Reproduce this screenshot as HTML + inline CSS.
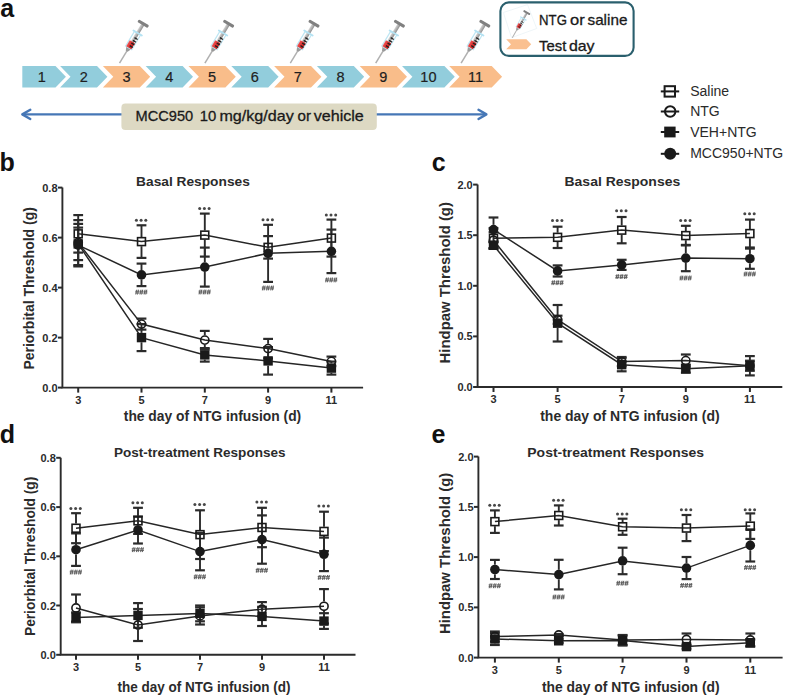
<!DOCTYPE html>
<html><head><meta charset="utf-8"><title>Figure</title>
<style>
html,body{margin:0;padding:0;background:#fff;}
body{width:785px;height:697px;overflow:hidden;}
svg{display:block;font-family:"Liberation Sans", sans-serif;}
</style></head>
<body>
<svg width="785" height="697" viewBox="0 0 785 697">
<rect width="785" height="697" fill="#fff"/>
<polygon points="22.3,66.0 55.5,66.0 65.9,76.8 55.5,87.6 22.3,87.6" fill="#92CDDC"/>
<text x="41.8" y="82.3" font-size="14.5" text-anchor="middle" fill="#1e1e1e" stroke="#1e1e1e" stroke-width="0.2">1</text>
<polygon points="60.1,66.0 97.0,66.0 107.4,76.8 97.0,87.6 60.1,87.6 70.5,76.8" fill="#92CDDC"/>
<text x="83.8" y="82.3" font-size="14.5" text-anchor="middle" fill="#1e1e1e" stroke="#1e1e1e" stroke-width="0.2">2</text>
<polygon points="102.9,66.0 139.8,66.0 150.2,76.8 139.8,87.6 102.9,87.6 113.3,76.8" fill="#F9BD8A"/>
<text x="126.6" y="82.3" font-size="14.5" text-anchor="middle" fill="#1e1e1e" stroke="#1e1e1e" stroke-width="0.2">3</text>
<polygon points="145.7,66.0 182.6,66.0 193.0,76.8 182.6,87.6 145.7,87.6 156.1,76.8" fill="#92CDDC"/>
<text x="169.3" y="82.3" font-size="14.5" text-anchor="middle" fill="#1e1e1e" stroke="#1e1e1e" stroke-width="0.2">4</text>
<polygon points="188.5,66.0 225.4,66.0 235.8,76.8 225.4,87.6 188.5,87.6 198.9,76.8" fill="#F9BD8A"/>
<text x="212.1" y="82.3" font-size="14.5" text-anchor="middle" fill="#1e1e1e" stroke="#1e1e1e" stroke-width="0.2">5</text>
<polygon points="231.3,66.0 268.2,66.0 278.6,76.8 268.2,87.6 231.3,87.6 241.7,76.8" fill="#92CDDC"/>
<text x="254.9" y="82.3" font-size="14.5" text-anchor="middle" fill="#1e1e1e" stroke="#1e1e1e" stroke-width="0.2">6</text>
<polygon points="274.1,66.0 311.0,66.0 321.4,76.8 311.0,87.6 274.1,87.6 284.5,76.8" fill="#F9BD8A"/>
<text x="297.8" y="82.3" font-size="14.5" text-anchor="middle" fill="#1e1e1e" stroke="#1e1e1e" stroke-width="0.2">7</text>
<polygon points="316.9,66.0 353.8,66.0 364.2,76.8 353.8,87.6 316.9,87.6 327.3,76.8" fill="#92CDDC"/>
<text x="340.5" y="82.3" font-size="14.5" text-anchor="middle" fill="#1e1e1e" stroke="#1e1e1e" stroke-width="0.2">8</text>
<polygon points="359.7,66.0 396.6,66.0 407.0,76.8 396.6,87.6 359.7,87.6 370.1,76.8" fill="#F9BD8A"/>
<text x="383.3" y="82.3" font-size="14.5" text-anchor="middle" fill="#1e1e1e" stroke="#1e1e1e" stroke-width="0.2">9</text>
<polygon points="402.0,66.0 444.4,66.0 454.8,76.8 444.4,87.6 402.0,87.6 412.4,76.8" fill="#92CDDC"/>
<text x="428.4" y="82.3" font-size="14.5" text-anchor="middle" fill="#1e1e1e" stroke="#1e1e1e" stroke-width="0.2">10</text>
<polygon points="449.2,66.0 491.7,66.0 502.1,76.8 491.7,87.6 449.2,87.6 459.6,76.8" fill="#F9BD8A"/>
<text x="475.6" y="82.3" font-size="14.5" text-anchor="middle" fill="#1e1e1e" stroke="#1e1e1e" stroke-width="0.2">11</text>
<defs>
<linearGradient id="gRod" x1="0" x2="1" y1="0" y2="0"><stop offset="0" stop-color="#d6d6d6"/><stop offset="0.5" stop-color="#b2b2b2"/><stop offset="1" stop-color="#8e8e8e"/></linearGradient>
<linearGradient id="gRed" x1="0" x2="1" y1="0" y2="0"><stop offset="0" stop-color="#f05050"/><stop offset="1" stop-color="#c01818"/></linearGradient>
<g id="syr">
<line x1="0" y1="0" x2="0" y2="-14.5" stroke="#b0b0b0" stroke-width="1.5"/>
<polygon points="-1.1,-14 1.1,-14 2.8,-18 -2.8,-18" fill="#9a9a9a"/>
<rect x="-3.6" y="-35" width="7.2" height="17.2" fill="#ffffff" stroke="#bfe6f3" stroke-width="1.2"/>
<rect x="-1.7" y="-46" width="3.4" height="24" fill="url(#gRod)"/>
<rect x="-3.0" y="-25" width="6.0" height="7" fill="url(#gRed)"/>
<g stroke="#202020" stroke-width="1.3">
<line x1="-0.3" y1="-20.3" x2="3.3" y2="-20.3"/>
<line x1="-0.3" y1="-23.4" x2="3.3" y2="-23.4"/>
<line x1="-0.3" y1="-26.5" x2="3.3" y2="-26.5"/>
<line x1="-0.3" y1="-29.6" x2="3.3" y2="-29.6"/>
</g>
<rect x="-5.8" y="-36.2" width="11.6" height="1.9" rx="0.9" fill="#b4e2f2"/>
<rect x="-6" y="-47.6" width="12" height="3.1" rx="1.2" fill="#808080"/>
</g>
</defs>
<use href="#syr" transform="translate(119.5,63.2) rotate(31)"/>
<use href="#syr" transform="translate(204.9,63.2) rotate(31)"/>
<use href="#syr" transform="translate(290.3,63.2) rotate(31)"/>
<use href="#syr" transform="translate(375.7,63.2) rotate(31)"/>
<use href="#syr" transform="translate(461.1,63.2) rotate(31)"/>
<rect x="500.4" y="2.4" width="133.2" height="53.5" rx="8.5" ry="8.5" fill="#fff" stroke="#2a5f6d" stroke-width="2.1"/>
<polygon points="503.4,12.5 527.5,4.6 536.7,28.5 511.5,37.7" fill="none" stroke="#ecf4f7" stroke-width="0.9"/>
<use href="#syr" transform="translate(512.3,37.7) rotate(30) scale(0.63)"/>
<polygon points="506.2,39.3 526.4,39.3 531.2,44.3 526.4,49.3 506.2,49.3 511,44.3" fill="#FAC090"/>
<text x="539.1" y="24.9" font-size="14.6" fill="#1a1a1a" stroke="#1a1a1a" stroke-width="0.3" textLength="27.8" lengthAdjust="spacingAndGlyphs">NTG</text>
<text x="570.0" y="24.9" font-size="14.6" fill="#1a1a1a" stroke="#1a1a1a" stroke-width="0.3" textLength="14.7" lengthAdjust="spacingAndGlyphs">or</text>
<text x="587.5" y="24.9" font-size="14.6" fill="#1a1a1a" stroke="#1a1a1a" stroke-width="0.3" textLength="39.9" lengthAdjust="spacingAndGlyphs">saline</text>
<text x="539.1" y="50.7" font-size="14.6" fill="#1a1a1a" stroke="#1a1a1a" stroke-width="0.3" textLength="27.2" lengthAdjust="spacingAndGlyphs">Test</text>
<text x="568.9" y="50.7" font-size="14.6" fill="#1a1a1a" stroke="#1a1a1a" stroke-width="0.3" textLength="25.7" lengthAdjust="spacingAndGlyphs">day</text>
<line x1="22.5" y1="114.4" x2="485.5" y2="114.4" stroke="#4677b6" stroke-width="2.4"/>
<polyline points="30.3,109.8 22.3,114.4 30.3,119.0" fill="none" stroke="#4677b6" stroke-width="2.4" stroke-linecap="round" stroke-linejoin="round"/>
<polyline points="478.5,109.8 486.4,114.4 478.5,119.0" fill="none" stroke="#4677b6" stroke-width="2.4" stroke-linecap="round" stroke-linejoin="round"/>
<rect x="121.4" y="103.6" width="255.4" height="26.4" rx="4" ry="4" fill="#DDD9C3"/>
<text x="135.6" y="120.7" font-size="14.6" fill="#1a1a1a" stroke="#1a1a1a" stroke-width="0.3" textLength="57.6" lengthAdjust="spacingAndGlyphs">MCC950</text>
<text x="199.8" y="120.7" font-size="14.6" fill="#1a1a1a" stroke="#1a1a1a" stroke-width="0.3" textLength="16.5" lengthAdjust="spacingAndGlyphs">10</text>
<text x="219.4" y="120.7" font-size="14.6" fill="#1a1a1a" stroke="#1a1a1a" stroke-width="0.3" textLength="74.3" lengthAdjust="spacingAndGlyphs">mg/kg/day</text>
<text x="297.6" y="120.7" font-size="14.6" fill="#1a1a1a" stroke="#1a1a1a" stroke-width="0.3" textLength="13.5" lengthAdjust="spacingAndGlyphs">or</text>
<text x="313.7" y="120.7" font-size="14.6" fill="#1a1a1a" stroke="#1a1a1a" stroke-width="0.3" textLength="50.1" lengthAdjust="spacingAndGlyphs">vehicle</text>
<text x="0.3" y="17" font-size="25" font-weight="bold" fill="#111">a</text>
<line x1="660.8" y1="91.4" x2="679.2" y2="91.4" stroke="#1a1a1a" stroke-width="2"/>
<rect x="664.60" y="86.20" width="10.40" height="10.40" fill="#fff" stroke="#1a1a1a" stroke-width="2"/>
<line x1="664" y1="91.4" x2="676" y2="91.4" stroke="#1a1a1a" stroke-width="2"/>
<text x="690.2" y="96.1" font-size="14" fill="#2a2a2a">Saline</text>
<line x1="660.8" y1="111.5" x2="679.2" y2="111.5" stroke="#1a1a1a" stroke-width="2"/>
<circle cx="670.20" cy="111.50" r="5.20" fill="#fff" stroke="#1a1a1a" stroke-width="2"/>
<line x1="664" y1="111.5" x2="676" y2="111.5" stroke="#1a1a1a" stroke-width="2"/>
<text x="690.2" y="116.1" font-size="14" fill="#2a2a2a">NTG</text>
<line x1="660.8" y1="132.0" x2="679.2" y2="132.0" stroke="#1a1a1a" stroke-width="2"/>
<rect x="664.2" y="126.6" width="11.4" height="10.8" fill="#1a1a1a"/>
<text x="690.2" y="136.6" font-size="14" fill="#2a2a2a">VEH+NTG</text>
<line x1="660.8" y1="153.8" x2="679.2" y2="153.8" stroke="#1a1a1a" stroke-width="2"/>
<circle cx="670.2" cy="153.8" r="6" fill="#1a1a1a"/>
<text x="690.2" y="158.1" font-size="14" fill="#2a2a2a">MCC950+NTG</text>
<path d="M62.4,187.6 V387.6 H363.1" fill="none" stroke="#2b2b2b" stroke-width="1.9"/>
<line x1="57.9" y1="387.6" x2="62.4" y2="387.6" stroke="#2b2b2b" stroke-width="2"/>
<text x="57.5" y="391.6" font-size="11" font-weight="bold" text-anchor="end" fill="#2b2b2b">0.0</text>
<line x1="57.9" y1="337.6" x2="62.4" y2="337.6" stroke="#2b2b2b" stroke-width="2"/>
<text x="57.5" y="341.6" font-size="11" font-weight="bold" text-anchor="end" fill="#2b2b2b">0.2</text>
<line x1="57.9" y1="287.6" x2="62.4" y2="287.6" stroke="#2b2b2b" stroke-width="2"/>
<text x="57.5" y="291.6" font-size="11" font-weight="bold" text-anchor="end" fill="#2b2b2b">0.4</text>
<line x1="57.9" y1="237.6" x2="62.4" y2="237.6" stroke="#2b2b2b" stroke-width="2"/>
<text x="57.5" y="241.6" font-size="11" font-weight="bold" text-anchor="end" fill="#2b2b2b">0.6</text>
<line x1="57.9" y1="187.6" x2="62.4" y2="187.6" stroke="#2b2b2b" stroke-width="2"/>
<text x="57.5" y="191.6" font-size="11" font-weight="bold" text-anchor="end" fill="#2b2b2b">0.8</text>
<line x1="78.2" y1="387.6" x2="78.2" y2="392.6" stroke="#2b2b2b" stroke-width="2"/>
<text x="78.2" y="403.7" font-size="11" font-weight="bold" text-anchor="middle" fill="#2b2b2b">3</text>
<line x1="141.5" y1="387.6" x2="141.5" y2="392.6" stroke="#2b2b2b" stroke-width="2"/>
<text x="141.5" y="403.7" font-size="11" font-weight="bold" text-anchor="middle" fill="#2b2b2b">5</text>
<line x1="204.8" y1="387.6" x2="204.8" y2="392.6" stroke="#2b2b2b" stroke-width="2"/>
<text x="204.8" y="403.7" font-size="11" font-weight="bold" text-anchor="middle" fill="#2b2b2b">7</text>
<line x1="268.1" y1="387.6" x2="268.1" y2="392.6" stroke="#2b2b2b" stroke-width="2"/>
<text x="268.1" y="403.7" font-size="11" font-weight="bold" text-anchor="middle" fill="#2b2b2b">9</text>
<line x1="331.4" y1="387.6" x2="331.4" y2="392.6" stroke="#2b2b2b" stroke-width="2"/>
<text x="331.4" y="403.7" font-size="11" font-weight="bold" text-anchor="middle" fill="#2b2b2b">11</text>
<text x="136.1" y="186.0" font-size="13.6" font-weight="bold" fill="#2b2b2b" textLength="113.7" lengthAdjust="spacingAndGlyphs">Basal Responses</text>
<text x="123.8" y="420.8" font-size="14" font-weight="bold" fill="#2b2b2b" textLength="177.4" lengthAdjust="spacingAndGlyphs">the day of NTG infusion (d)</text>
<text transform="translate(34.4,369.6) rotate(-90)" x="0" y="0" font-size="14" font-weight="bold" fill="#2b2b2b" textLength="162.5" lengthAdjust="spacingAndGlyphs">Periorbital Threshold (g)</text>
<text x="-0.5" y="171.0" font-size="25" font-weight="bold" fill="#111">b</text>
<line x1="78.2" y1="227.6" x2="78.2" y2="239.2" stroke="#2b2b2b" stroke-width="1.9"/>
<line x1="78.2" y1="248.6" x2="78.2" y2="260.1" stroke="#2b2b2b" stroke-width="1.9"/>
<line x1="73.3" y1="227.6" x2="83.1" y2="227.6" stroke="#2b2b2b" stroke-width="2.2"/>
<line x1="73.3" y1="260.1" x2="83.1" y2="260.1" stroke="#2b2b2b" stroke-width="2.2"/>
<line x1="141.5" y1="324.1" x2="141.5" y2="332.9" stroke="#2b2b2b" stroke-width="1.9"/>
<line x1="141.5" y1="342.3" x2="141.5" y2="351.1" stroke="#2b2b2b" stroke-width="1.9"/>
<line x1="136.6" y1="324.1" x2="146.4" y2="324.1" stroke="#2b2b2b" stroke-width="2.2"/>
<line x1="136.6" y1="351.1" x2="146.4" y2="351.1" stroke="#2b2b2b" stroke-width="2.2"/>
<line x1="204.8" y1="348.1" x2="204.8" y2="350.2" stroke="#2b2b2b" stroke-width="1.9"/>
<line x1="204.8" y1="359.6" x2="204.8" y2="361.6" stroke="#2b2b2b" stroke-width="1.9"/>
<line x1="199.9" y1="348.1" x2="209.7" y2="348.1" stroke="#2b2b2b" stroke-width="2.2"/>
<line x1="199.9" y1="361.6" x2="209.7" y2="361.6" stroke="#2b2b2b" stroke-width="2.2"/>
<line x1="268.1" y1="347.1" x2="268.1" y2="356.2" stroke="#2b2b2b" stroke-width="1.9"/>
<line x1="268.1" y1="365.6" x2="268.1" y2="374.6" stroke="#2b2b2b" stroke-width="1.9"/>
<line x1="263.2" y1="347.1" x2="273.0" y2="347.1" stroke="#2b2b2b" stroke-width="2.2"/>
<line x1="263.2" y1="374.6" x2="273.0" y2="374.6" stroke="#2b2b2b" stroke-width="2.2"/>
<line x1="331.4" y1="361.6" x2="331.4" y2="363.4" stroke="#2b2b2b" stroke-width="1.9"/>
<line x1="331.4" y1="372.8" x2="331.4" y2="374.6" stroke="#2b2b2b" stroke-width="1.9"/>
<line x1="326.5" y1="361.6" x2="336.3" y2="361.6" stroke="#2b2b2b" stroke-width="2.2"/>
<line x1="326.5" y1="374.6" x2="336.3" y2="374.6" stroke="#2b2b2b" stroke-width="2.2"/>
<line x1="78.2" y1="220.1" x2="78.2" y2="237.8" stroke="#2b2b2b" stroke-width="1.9"/>
<line x1="78.2" y1="247.4" x2="78.2" y2="265.1" stroke="#2b2b2b" stroke-width="1.9"/>
<line x1="73.3" y1="220.1" x2="83.1" y2="220.1" stroke="#2b2b2b" stroke-width="2.2"/>
<line x1="73.3" y1="265.1" x2="83.1" y2="265.1" stroke="#2b2b2b" stroke-width="2.2"/>
<line x1="141.5" y1="318.6" x2="141.5" y2="319.3" stroke="#2b2b2b" stroke-width="1.9"/>
<line x1="141.5" y1="328.9" x2="141.5" y2="329.6" stroke="#2b2b2b" stroke-width="1.9"/>
<line x1="136.6" y1="318.6" x2="146.4" y2="318.6" stroke="#2b2b2b" stroke-width="2.2"/>
<line x1="136.6" y1="329.6" x2="146.4" y2="329.6" stroke="#2b2b2b" stroke-width="2.2"/>
<line x1="204.8" y1="330.9" x2="204.8" y2="335.3" stroke="#2b2b2b" stroke-width="1.9"/>
<line x1="204.8" y1="344.9" x2="204.8" y2="349.4" stroke="#2b2b2b" stroke-width="1.9"/>
<line x1="199.9" y1="330.9" x2="209.7" y2="330.9" stroke="#2b2b2b" stroke-width="2.2"/>
<line x1="199.9" y1="349.4" x2="209.7" y2="349.4" stroke="#2b2b2b" stroke-width="2.2"/>
<line x1="268.1" y1="338.9" x2="268.1" y2="343.8" stroke="#2b2b2b" stroke-width="1.9"/>
<line x1="268.1" y1="353.4" x2="268.1" y2="358.4" stroke="#2b2b2b" stroke-width="1.9"/>
<line x1="263.2" y1="338.9" x2="273.0" y2="338.9" stroke="#2b2b2b" stroke-width="2.2"/>
<line x1="263.2" y1="358.4" x2="273.0" y2="358.4" stroke="#2b2b2b" stroke-width="2.2"/>
<line x1="326.5" y1="356.6" x2="336.3" y2="356.6" stroke="#2b2b2b" stroke-width="2.2"/>
<line x1="326.5" y1="366.1" x2="336.3" y2="366.1" stroke="#2b2b2b" stroke-width="2.2"/>
<line x1="78.2" y1="223.9" x2="78.2" y2="240.3" stroke="#2b2b2b" stroke-width="1.9"/>
<line x1="78.2" y1="249.9" x2="78.2" y2="266.4" stroke="#2b2b2b" stroke-width="1.9"/>
<line x1="73.3" y1="223.9" x2="83.1" y2="223.9" stroke="#2b2b2b" stroke-width="2.2"/>
<line x1="73.3" y1="266.4" x2="83.1" y2="266.4" stroke="#2b2b2b" stroke-width="2.2"/>
<line x1="141.5" y1="263.6" x2="141.5" y2="270.1" stroke="#2b2b2b" stroke-width="1.9"/>
<line x1="141.5" y1="279.7" x2="141.5" y2="286.1" stroke="#2b2b2b" stroke-width="1.9"/>
<line x1="136.6" y1="263.6" x2="146.4" y2="263.6" stroke="#2b2b2b" stroke-width="2.2"/>
<line x1="136.6" y1="286.1" x2="146.4" y2="286.1" stroke="#2b2b2b" stroke-width="2.2"/>
<line x1="204.8" y1="247.6" x2="204.8" y2="262.3" stroke="#2b2b2b" stroke-width="1.9"/>
<line x1="204.8" y1="271.9" x2="204.8" y2="286.6" stroke="#2b2b2b" stroke-width="1.9"/>
<line x1="199.9" y1="247.6" x2="209.7" y2="247.6" stroke="#2b2b2b" stroke-width="2.2"/>
<line x1="199.9" y1="286.6" x2="209.7" y2="286.6" stroke="#2b2b2b" stroke-width="2.2"/>
<line x1="268.1" y1="224.8" x2="268.1" y2="248.5" stroke="#2b2b2b" stroke-width="1.9"/>
<line x1="268.1" y1="258.1" x2="268.1" y2="281.9" stroke="#2b2b2b" stroke-width="1.9"/>
<line x1="263.2" y1="224.8" x2="273.0" y2="224.8" stroke="#2b2b2b" stroke-width="2.2"/>
<line x1="263.2" y1="281.9" x2="273.0" y2="281.9" stroke="#2b2b2b" stroke-width="2.2"/>
<line x1="331.4" y1="229.6" x2="331.4" y2="246.5" stroke="#2b2b2b" stroke-width="1.9"/>
<line x1="331.4" y1="256.1" x2="331.4" y2="273.1" stroke="#2b2b2b" stroke-width="1.9"/>
<line x1="326.5" y1="229.6" x2="336.3" y2="229.6" stroke="#2b2b2b" stroke-width="2.2"/>
<line x1="326.5" y1="273.1" x2="336.3" y2="273.1" stroke="#2b2b2b" stroke-width="2.2"/>
<line x1="78.2" y1="215.1" x2="78.2" y2="229.2" stroke="#2b2b2b" stroke-width="1.9"/>
<line x1="78.2" y1="238.4" x2="78.2" y2="252.6" stroke="#2b2b2b" stroke-width="1.9"/>
<line x1="73.3" y1="215.1" x2="83.1" y2="215.1" stroke="#2b2b2b" stroke-width="2.2"/>
<line x1="73.3" y1="252.6" x2="83.1" y2="252.6" stroke="#2b2b2b" stroke-width="2.2"/>
<line x1="141.5" y1="225.3" x2="141.5" y2="237.0" stroke="#2b2b2b" stroke-width="1.9"/>
<line x1="141.5" y1="246.2" x2="141.5" y2="257.9" stroke="#2b2b2b" stroke-width="1.9"/>
<line x1="136.6" y1="225.3" x2="146.4" y2="225.3" stroke="#2b2b2b" stroke-width="2.2"/>
<line x1="136.6" y1="257.9" x2="146.4" y2="257.9" stroke="#2b2b2b" stroke-width="2.2"/>
<line x1="204.8" y1="213.6" x2="204.8" y2="230.5" stroke="#2b2b2b" stroke-width="1.9"/>
<line x1="204.8" y1="239.7" x2="204.8" y2="256.6" stroke="#2b2b2b" stroke-width="1.9"/>
<line x1="199.9" y1="213.6" x2="209.7" y2="213.6" stroke="#2b2b2b" stroke-width="2.2"/>
<line x1="199.9" y1="256.6" x2="209.7" y2="256.6" stroke="#2b2b2b" stroke-width="2.2"/>
<line x1="268.1" y1="236.1" x2="268.1" y2="242.8" stroke="#2b2b2b" stroke-width="1.9"/>
<line x1="268.1" y1="251.9" x2="268.1" y2="258.6" stroke="#2b2b2b" stroke-width="1.9"/>
<line x1="263.2" y1="236.1" x2="273.0" y2="236.1" stroke="#2b2b2b" stroke-width="2.2"/>
<line x1="263.2" y1="258.6" x2="273.0" y2="258.6" stroke="#2b2b2b" stroke-width="2.2"/>
<line x1="331.4" y1="219.6" x2="331.4" y2="233.5" stroke="#2b2b2b" stroke-width="1.9"/>
<line x1="331.4" y1="242.7" x2="331.4" y2="256.6" stroke="#2b2b2b" stroke-width="1.9"/>
<line x1="326.5" y1="219.6" x2="336.3" y2="219.6" stroke="#2b2b2b" stroke-width="2.2"/>
<line x1="326.5" y1="256.6" x2="336.3" y2="256.6" stroke="#2b2b2b" stroke-width="2.2"/>
<polyline points="78.2,243.9 141.5,337.6 204.8,354.9 268.1,360.9 331.4,368.1" fill="none" stroke="#262626" stroke-width="1.5"/>
<polyline points="78.2,242.6 141.5,324.1 204.8,340.1 268.1,348.6 331.4,361.4" fill="none" stroke="#262626" stroke-width="1.5"/>
<polyline points="78.2,245.1 141.5,274.9 204.8,267.1 268.1,253.3 331.4,251.3" fill="none" stroke="#262626" stroke-width="1.5"/>
<polyline points="78.2,233.8 141.5,241.6 204.8,235.1 268.1,247.3 331.4,238.1" fill="none" stroke="#262626" stroke-width="1.5"/>
<rect x="73.5" y="239.2" width="9.4" height="9.4" fill="#1a1a1a"/>
<rect x="136.8" y="332.9" width="9.4" height="9.4" fill="#1a1a1a"/>
<rect x="200.1" y="350.2" width="9.4" height="9.4" fill="#1a1a1a"/>
<rect x="263.4" y="356.2" width="9.4" height="9.4" fill="#1a1a1a"/>
<rect x="326.7" y="363.4" width="9.4" height="9.4" fill="#1a1a1a"/>
<circle cx="78.20" cy="242.60" r="4.1" fill="none" stroke="#1a1a1a" stroke-width="1.6"/>
<circle cx="141.50" cy="324.10" r="4.1" fill="none" stroke="#1a1a1a" stroke-width="1.6"/>
<circle cx="204.80" cy="340.10" r="4.1" fill="none" stroke="#1a1a1a" stroke-width="1.6"/>
<circle cx="268.10" cy="348.60" r="4.1" fill="none" stroke="#1a1a1a" stroke-width="1.6"/>
<circle cx="331.40" cy="361.35" r="4.1" fill="none" stroke="#1a1a1a" stroke-width="1.6"/>
<circle cx="78.2" cy="245.1" r="4.8" fill="#1a1a1a"/>
<circle cx="141.5" cy="274.9" r="4.8" fill="#1a1a1a"/>
<circle cx="204.8" cy="267.1" r="4.8" fill="#1a1a1a"/>
<circle cx="268.1" cy="253.3" r="4.8" fill="#1a1a1a"/>
<circle cx="331.4" cy="251.3" r="4.8" fill="#1a1a1a"/>
<rect x="74.25" y="229.90" width="7.9" height="7.9" fill="none" stroke="#1a1a1a" stroke-width="1.6"/>
<rect x="137.55" y="237.65" width="7.9" height="7.9" fill="none" stroke="#1a1a1a" stroke-width="1.6"/>
<rect x="200.85" y="231.15" width="7.9" height="7.9" fill="none" stroke="#1a1a1a" stroke-width="1.6"/>
<rect x="264.15" y="243.40" width="7.9" height="7.9" fill="none" stroke="#1a1a1a" stroke-width="1.6"/>
<rect x="327.45" y="234.15" width="7.9" height="7.9" fill="none" stroke="#1a1a1a" stroke-width="1.6"/>
<circle cx="136.4" cy="220.2" r="1.5" fill="#474747"/>
<circle cx="141.1" cy="220.2" r="1.5" fill="#474747"/>
<circle cx="145.8" cy="220.2" r="1.5" fill="#474747"/>
<circle cx="199.7" cy="208.5" r="1.5" fill="#474747"/>
<circle cx="204.4" cy="208.5" r="1.5" fill="#474747"/>
<circle cx="209.1" cy="208.5" r="1.5" fill="#474747"/>
<circle cx="263.0" cy="219.7" r="1.5" fill="#474747"/>
<circle cx="267.7" cy="219.7" r="1.5" fill="#474747"/>
<circle cx="272.4" cy="219.7" r="1.5" fill="#474747"/>
<circle cx="326.3" cy="215.0" r="1.5" fill="#474747"/>
<circle cx="331.0" cy="215.0" r="1.5" fill="#474747"/>
<circle cx="335.7" cy="215.0" r="1.5" fill="#474747"/>
<path d="M135.80,294.50L136.80,289.70M137.50,294.50L138.50,289.70M135.25,291.25H139.05M135.25,292.95H139.05M139.95,294.50L140.95,289.70M141.65,294.50L142.65,289.70M139.40,291.25H143.20M139.40,292.95H143.20M144.10,294.50L145.10,289.70M145.80,294.50L146.80,289.70M143.55,291.25H147.35M143.55,292.95H147.35" stroke="#606060" stroke-width="1.0" fill="none"/>
<path d="M199.10,294.40L200.10,289.60M200.80,294.40L201.80,289.60M198.55,291.15H202.35M198.55,292.85H202.35M203.25,294.40L204.25,289.60M204.95,294.40L205.95,289.60M202.70,291.15H206.50M202.70,292.85H206.50M207.40,294.40L208.40,289.60M209.10,294.40L210.10,289.60M206.85,291.15H210.65M206.85,292.85H210.65" stroke="#606060" stroke-width="1.0" fill="none"/>
<path d="M262.40,290.40L263.40,285.60M264.10,290.40L265.10,285.60M261.85,287.15H265.65M261.85,288.85H265.65M266.55,290.40L267.55,285.60M268.25,290.40L269.25,285.60M266.00,287.15H269.80M266.00,288.85H269.80M270.70,290.40L271.70,285.60M272.40,290.40L273.40,285.60M270.15,287.15H273.95M270.15,288.85H273.95" stroke="#606060" stroke-width="1.0" fill="none"/>
<path d="M325.70,282.30L326.70,277.50M327.40,282.30L328.40,277.50M325.15,279.05H328.95M325.15,280.75H328.95M329.85,282.30L330.85,277.50M331.55,282.30L332.55,277.50M329.30,279.05H333.10M329.30,280.75H333.10M334.00,282.30L335.00,277.50M335.70,282.30L336.70,277.50M333.45,279.05H337.25M333.45,280.75H337.25" stroke="#606060" stroke-width="1.0" fill="none"/>
<path d="M477.6,184.6 V387.0 H782.3" fill="none" stroke="#2b2b2b" stroke-width="1.9"/>
<line x1="473.1" y1="387.0" x2="477.6" y2="387.0" stroke="#2b2b2b" stroke-width="2"/>
<text x="472.7" y="391.0" font-size="11" font-weight="bold" text-anchor="end" fill="#2b2b2b">0.0</text>
<line x1="473.1" y1="336.4" x2="477.6" y2="336.4" stroke="#2b2b2b" stroke-width="2"/>
<text x="472.7" y="340.4" font-size="11" font-weight="bold" text-anchor="end" fill="#2b2b2b">0.5</text>
<line x1="473.1" y1="285.8" x2="477.6" y2="285.8" stroke="#2b2b2b" stroke-width="2"/>
<text x="472.7" y="289.8" font-size="11" font-weight="bold" text-anchor="end" fill="#2b2b2b">1.0</text>
<line x1="473.1" y1="235.2" x2="477.6" y2="235.2" stroke="#2b2b2b" stroke-width="2"/>
<text x="472.7" y="239.2" font-size="11" font-weight="bold" text-anchor="end" fill="#2b2b2b">1.5</text>
<line x1="473.1" y1="184.6" x2="477.6" y2="184.6" stroke="#2b2b2b" stroke-width="2"/>
<text x="472.7" y="188.6" font-size="11" font-weight="bold" text-anchor="end" fill="#2b2b2b">2.0</text>
<line x1="493.5" y1="387.0" x2="493.5" y2="392.0" stroke="#2b2b2b" stroke-width="2"/>
<text x="493.5" y="403.1" font-size="11" font-weight="bold" text-anchor="middle" fill="#2b2b2b">3</text>
<line x1="557.6" y1="387.0" x2="557.6" y2="392.0" stroke="#2b2b2b" stroke-width="2"/>
<text x="557.6" y="403.1" font-size="11" font-weight="bold" text-anchor="middle" fill="#2b2b2b">5</text>
<line x1="621.7" y1="387.0" x2="621.7" y2="392.0" stroke="#2b2b2b" stroke-width="2"/>
<text x="621.7" y="403.1" font-size="11" font-weight="bold" text-anchor="middle" fill="#2b2b2b">7</text>
<line x1="685.8" y1="387.0" x2="685.8" y2="392.0" stroke="#2b2b2b" stroke-width="2"/>
<text x="685.8" y="403.1" font-size="11" font-weight="bold" text-anchor="middle" fill="#2b2b2b">9</text>
<line x1="749.9" y1="387.0" x2="749.9" y2="392.0" stroke="#2b2b2b" stroke-width="2"/>
<text x="749.9" y="403.1" font-size="11" font-weight="bold" text-anchor="middle" fill="#2b2b2b">11</text>
<text x="564.5" y="186.4" font-size="13.6" font-weight="bold" fill="#2b2b2b" textLength="115.7" lengthAdjust="spacingAndGlyphs">Basal Responses</text>
<text x="540.2" y="420.8" font-size="14" font-weight="bold" fill="#2b2b2b" textLength="179.4" lengthAdjust="spacingAndGlyphs">the day of NTG infusion (d)</text>
<text transform="translate(449.5,363.4) rotate(-90)" x="0" y="0" font-size="14" font-weight="bold" fill="#2b2b2b" textLength="161.3" lengthAdjust="spacingAndGlyphs">Hindpaw Threshold (g)</text>
<text x="431.7" y="171.1" font-size="25" font-weight="bold" fill="#111">c</text>
<line x1="488.6" y1="242.3" x2="498.4" y2="242.3" stroke="#2b2b2b" stroke-width="2.2"/>
<line x1="488.6" y1="248.4" x2="498.4" y2="248.4" stroke="#2b2b2b" stroke-width="2.2"/>
<line x1="557.6" y1="305.0" x2="557.6" y2="318.5" stroke="#2b2b2b" stroke-width="1.9"/>
<line x1="557.6" y1="327.9" x2="557.6" y2="341.5" stroke="#2b2b2b" stroke-width="1.9"/>
<line x1="552.7" y1="305.0" x2="562.5" y2="305.0" stroke="#2b2b2b" stroke-width="2.2"/>
<line x1="552.7" y1="341.5" x2="562.5" y2="341.5" stroke="#2b2b2b" stroke-width="2.2"/>
<line x1="621.7" y1="358.2" x2="621.7" y2="360.0" stroke="#2b2b2b" stroke-width="1.9"/>
<line x1="621.7" y1="369.4" x2="621.7" y2="371.3" stroke="#2b2b2b" stroke-width="1.9"/>
<line x1="616.8" y1="358.2" x2="626.6" y2="358.2" stroke="#2b2b2b" stroke-width="2.2"/>
<line x1="616.8" y1="371.3" x2="626.6" y2="371.3" stroke="#2b2b2b" stroke-width="2.2"/>
<line x1="680.9" y1="364.6" x2="690.7" y2="364.6" stroke="#2b2b2b" stroke-width="2.2"/>
<line x1="680.9" y1="372.7" x2="690.7" y2="372.7" stroke="#2b2b2b" stroke-width="2.2"/>
<line x1="745.0" y1="360.7" x2="754.8" y2="360.7" stroke="#2b2b2b" stroke-width="2.2"/>
<line x1="745.0" y1="370.8" x2="754.8" y2="370.8" stroke="#2b2b2b" stroke-width="2.2"/>
<line x1="493.5" y1="232.2" x2="493.5" y2="235.5" stroke="#2b2b2b" stroke-width="1.9"/>
<line x1="493.5" y1="245.1" x2="493.5" y2="248.4" stroke="#2b2b2b" stroke-width="1.9"/>
<line x1="488.6" y1="232.2" x2="498.4" y2="232.2" stroke="#2b2b2b" stroke-width="2.2"/>
<line x1="488.6" y1="248.4" x2="498.4" y2="248.4" stroke="#2b2b2b" stroke-width="2.2"/>
<line x1="552.7" y1="315.7" x2="562.5" y2="315.7" stroke="#2b2b2b" stroke-width="2.2"/>
<line x1="552.7" y1="323.8" x2="562.5" y2="323.8" stroke="#2b2b2b" stroke-width="2.2"/>
<line x1="616.8" y1="357.0" x2="626.6" y2="357.0" stroke="#2b2b2b" stroke-width="2.2"/>
<line x1="616.8" y1="366.2" x2="626.6" y2="366.2" stroke="#2b2b2b" stroke-width="2.2"/>
<line x1="685.8" y1="354.5" x2="685.8" y2="355.8" stroke="#2b2b2b" stroke-width="1.9"/>
<line x1="685.8" y1="365.4" x2="685.8" y2="366.7" stroke="#2b2b2b" stroke-width="1.9"/>
<line x1="680.9" y1="354.5" x2="690.7" y2="354.5" stroke="#2b2b2b" stroke-width="2.2"/>
<line x1="680.9" y1="366.7" x2="690.7" y2="366.7" stroke="#2b2b2b" stroke-width="2.2"/>
<line x1="749.9" y1="356.1" x2="749.9" y2="360.9" stroke="#2b2b2b" stroke-width="1.9"/>
<line x1="749.9" y1="370.5" x2="749.9" y2="375.4" stroke="#2b2b2b" stroke-width="1.9"/>
<line x1="745.0" y1="356.1" x2="754.8" y2="356.1" stroke="#2b2b2b" stroke-width="2.2"/>
<line x1="745.0" y1="375.4" x2="754.8" y2="375.4" stroke="#2b2b2b" stroke-width="2.2"/>
<line x1="493.5" y1="217.5" x2="493.5" y2="224.8" stroke="#2b2b2b" stroke-width="1.9"/>
<line x1="493.5" y1="234.4" x2="493.5" y2="241.8" stroke="#2b2b2b" stroke-width="1.9"/>
<line x1="488.6" y1="217.5" x2="498.4" y2="217.5" stroke="#2b2b2b" stroke-width="2.2"/>
<line x1="488.6" y1="241.8" x2="498.4" y2="241.8" stroke="#2b2b2b" stroke-width="2.2"/>
<line x1="557.6" y1="265.4" x2="557.6" y2="266.1" stroke="#2b2b2b" stroke-width="1.9"/>
<line x1="557.6" y1="275.7" x2="557.6" y2="276.5" stroke="#2b2b2b" stroke-width="1.9"/>
<line x1="552.7" y1="265.4" x2="562.5" y2="265.4" stroke="#2b2b2b" stroke-width="2.2"/>
<line x1="552.7" y1="276.5" x2="562.5" y2="276.5" stroke="#2b2b2b" stroke-width="2.2"/>
<line x1="616.8" y1="259.8" x2="626.6" y2="259.8" stroke="#2b2b2b" stroke-width="2.2"/>
<line x1="616.8" y1="269.9" x2="626.6" y2="269.9" stroke="#2b2b2b" stroke-width="2.2"/>
<line x1="685.8" y1="244.9" x2="685.8" y2="253.3" stroke="#2b2b2b" stroke-width="1.9"/>
<line x1="685.8" y1="262.9" x2="685.8" y2="271.2" stroke="#2b2b2b" stroke-width="1.9"/>
<line x1="680.9" y1="244.9" x2="690.7" y2="244.9" stroke="#2b2b2b" stroke-width="2.2"/>
<line x1="680.9" y1="271.2" x2="690.7" y2="271.2" stroke="#2b2b2b" stroke-width="2.2"/>
<line x1="749.9" y1="248.6" x2="749.9" y2="253.9" stroke="#2b2b2b" stroke-width="1.9"/>
<line x1="749.9" y1="263.5" x2="749.9" y2="268.8" stroke="#2b2b2b" stroke-width="1.9"/>
<line x1="745.0" y1="248.6" x2="754.8" y2="248.6" stroke="#2b2b2b" stroke-width="2.2"/>
<line x1="745.0" y1="268.8" x2="754.8" y2="268.8" stroke="#2b2b2b" stroke-width="2.2"/>
<line x1="493.5" y1="228.1" x2="493.5" y2="233.6" stroke="#2b2b2b" stroke-width="1.9"/>
<line x1="493.5" y1="242.8" x2="493.5" y2="248.4" stroke="#2b2b2b" stroke-width="1.9"/>
<line x1="488.6" y1="228.1" x2="498.4" y2="228.1" stroke="#2b2b2b" stroke-width="2.2"/>
<line x1="488.6" y1="248.4" x2="498.4" y2="248.4" stroke="#2b2b2b" stroke-width="2.2"/>
<line x1="557.6" y1="226.7" x2="557.6" y2="232.7" stroke="#2b2b2b" stroke-width="1.9"/>
<line x1="557.6" y1="241.9" x2="557.6" y2="248.0" stroke="#2b2b2b" stroke-width="1.9"/>
<line x1="552.7" y1="226.7" x2="562.5" y2="226.7" stroke="#2b2b2b" stroke-width="2.2"/>
<line x1="552.7" y1="248.0" x2="562.5" y2="248.0" stroke="#2b2b2b" stroke-width="2.2"/>
<line x1="621.7" y1="217.0" x2="621.7" y2="225.5" stroke="#2b2b2b" stroke-width="1.9"/>
<line x1="621.7" y1="234.7" x2="621.7" y2="243.3" stroke="#2b2b2b" stroke-width="1.9"/>
<line x1="616.8" y1="217.0" x2="626.6" y2="217.0" stroke="#2b2b2b" stroke-width="2.2"/>
<line x1="616.8" y1="243.3" x2="626.6" y2="243.3" stroke="#2b2b2b" stroke-width="2.2"/>
<line x1="685.8" y1="225.8" x2="685.8" y2="231.0" stroke="#2b2b2b" stroke-width="1.9"/>
<line x1="685.8" y1="240.2" x2="685.8" y2="245.4" stroke="#2b2b2b" stroke-width="1.9"/>
<line x1="680.9" y1="225.8" x2="690.7" y2="225.8" stroke="#2b2b2b" stroke-width="2.2"/>
<line x1="680.9" y1="245.4" x2="690.7" y2="245.4" stroke="#2b2b2b" stroke-width="2.2"/>
<line x1="749.9" y1="219.6" x2="749.9" y2="229.0" stroke="#2b2b2b" stroke-width="1.9"/>
<line x1="749.9" y1="238.2" x2="749.9" y2="247.5" stroke="#2b2b2b" stroke-width="1.9"/>
<line x1="745.0" y1="219.6" x2="754.8" y2="219.6" stroke="#2b2b2b" stroke-width="2.2"/>
<line x1="745.0" y1="247.5" x2="754.8" y2="247.5" stroke="#2b2b2b" stroke-width="2.2"/>
<polyline points="493.5,245.3 557.6,323.2 621.7,364.7 685.8,368.7 749.9,365.7" fill="none" stroke="#262626" stroke-width="1.5"/>
<polyline points="493.5,240.3 557.6,319.7 621.7,361.6 685.8,360.6 749.9,365.7" fill="none" stroke="#262626" stroke-width="1.5"/>
<polyline points="493.5,229.6 557.6,270.9 621.7,264.9 685.8,258.1 749.9,258.7" fill="none" stroke="#262626" stroke-width="1.5"/>
<polyline points="493.5,238.2 557.6,237.3 621.7,230.1 685.8,235.6 749.9,233.6" fill="none" stroke="#262626" stroke-width="1.5"/>
<rect x="488.8" y="240.6" width="9.4" height="9.4" fill="#1a1a1a"/>
<rect x="552.9" y="318.5" width="9.4" height="9.4" fill="#1a1a1a"/>
<rect x="617.0" y="360.0" width="9.4" height="9.4" fill="#1a1a1a"/>
<rect x="681.1" y="364.0" width="9.4" height="9.4" fill="#1a1a1a"/>
<rect x="745.2" y="361.0" width="9.4" height="9.4" fill="#1a1a1a"/>
<circle cx="493.50" cy="240.26" r="4.1" fill="none" stroke="#1a1a1a" stroke-width="1.6"/>
<circle cx="557.60" cy="319.70" r="4.1" fill="none" stroke="#1a1a1a" stroke-width="1.6"/>
<circle cx="621.70" cy="361.60" r="4.1" fill="none" stroke="#1a1a1a" stroke-width="1.6"/>
<circle cx="685.80" cy="360.59" r="4.1" fill="none" stroke="#1a1a1a" stroke-width="1.6"/>
<circle cx="749.90" cy="365.75" r="4.1" fill="none" stroke="#1a1a1a" stroke-width="1.6"/>
<circle cx="493.5" cy="229.6" r="4.8" fill="#1a1a1a"/>
<circle cx="557.6" cy="270.9" r="4.8" fill="#1a1a1a"/>
<circle cx="621.7" cy="264.9" r="4.8" fill="#1a1a1a"/>
<circle cx="685.8" cy="258.1" r="4.8" fill="#1a1a1a"/>
<circle cx="749.9" cy="258.7" r="4.8" fill="#1a1a1a"/>
<rect x="489.55" y="234.29" width="7.9" height="7.9" fill="none" stroke="#1a1a1a" stroke-width="1.6"/>
<rect x="553.65" y="233.38" width="7.9" height="7.9" fill="none" stroke="#1a1a1a" stroke-width="1.6"/>
<rect x="617.75" y="226.19" width="7.9" height="7.9" fill="none" stroke="#1a1a1a" stroke-width="1.6"/>
<rect x="681.85" y="231.65" width="7.9" height="7.9" fill="none" stroke="#1a1a1a" stroke-width="1.6"/>
<rect x="745.95" y="229.63" width="7.9" height="7.9" fill="none" stroke="#1a1a1a" stroke-width="1.6"/>
<circle cx="552.5" cy="220.5" r="1.5" fill="#474747"/>
<circle cx="557.2" cy="220.5" r="1.5" fill="#474747"/>
<circle cx="561.9" cy="220.5" r="1.5" fill="#474747"/>
<circle cx="616.6" cy="210.8" r="1.5" fill="#474747"/>
<circle cx="621.3" cy="210.8" r="1.5" fill="#474747"/>
<circle cx="626.0" cy="210.8" r="1.5" fill="#474747"/>
<circle cx="680.7" cy="220.5" r="1.5" fill="#474747"/>
<circle cx="685.4" cy="220.5" r="1.5" fill="#474747"/>
<circle cx="690.1" cy="220.5" r="1.5" fill="#474747"/>
<circle cx="744.8" cy="213.8" r="1.5" fill="#474747"/>
<circle cx="749.5" cy="213.8" r="1.5" fill="#474747"/>
<circle cx="754.2" cy="213.8" r="1.5" fill="#474747"/>
<path d="M551.90,285.10L552.90,280.30M553.60,285.10L554.60,280.30M551.35,281.85H555.15M551.35,283.55H555.15M556.05,285.10L557.05,280.30M557.75,285.10L558.75,280.30M555.50,281.85H559.30M555.50,283.55H559.30M560.20,285.10L561.20,280.30M561.90,285.10L562.90,280.30M559.65,281.85H563.45M559.65,283.55H563.45" stroke="#606060" stroke-width="1.0" fill="none"/>
<path d="M616.00,279.00L617.00,274.20M617.70,279.00L618.70,274.20M615.45,275.75H619.25M615.45,277.45H619.25M620.15,279.00L621.15,274.20M621.85,279.00L622.85,274.20M619.60,275.75H623.40M619.60,277.45H623.40M624.30,279.00L625.30,274.20M626.00,279.00L627.00,274.20M623.75,275.75H627.55M623.75,277.45H627.55" stroke="#606060" stroke-width="1.0" fill="none"/>
<path d="M680.10,280.40L681.10,275.60M681.80,280.40L682.80,275.60M679.55,277.15H683.35M679.55,278.85H683.35M684.25,280.40L685.25,275.60M685.95,280.40L686.95,275.60M683.70,277.15H687.50M683.70,278.85H687.50M688.40,280.40L689.40,275.60M690.10,280.40L691.10,275.60M687.85,277.15H691.65M687.85,278.85H691.65" stroke="#606060" stroke-width="1.0" fill="none"/>
<path d="M744.20,276.40L745.20,271.60M745.90,276.40L746.90,271.60M743.65,273.15H747.45M743.65,274.85H747.45M748.35,276.40L749.35,271.60M750.05,276.40L751.05,271.60M747.80,273.15H751.60M747.80,274.85H751.60M752.50,276.40L753.50,271.60M754.20,276.40L755.20,271.60M751.95,273.15H755.75M751.95,274.85H755.75" stroke="#606060" stroke-width="1.0" fill="none"/>
<path d="M60.7,457.8 V654.8 H355.5" fill="none" stroke="#2b2b2b" stroke-width="1.9"/>
<line x1="56.2" y1="654.8" x2="60.7" y2="654.8" stroke="#2b2b2b" stroke-width="2"/>
<text x="55.8" y="658.8" font-size="11" font-weight="bold" text-anchor="end" fill="#2b2b2b">0.0</text>
<line x1="56.2" y1="605.5" x2="60.7" y2="605.5" stroke="#2b2b2b" stroke-width="2"/>
<text x="55.8" y="609.5" font-size="11" font-weight="bold" text-anchor="end" fill="#2b2b2b">0.2</text>
<line x1="56.2" y1="556.3" x2="60.7" y2="556.3" stroke="#2b2b2b" stroke-width="2"/>
<text x="55.8" y="560.3" font-size="11" font-weight="bold" text-anchor="end" fill="#2b2b2b">0.4</text>
<line x1="56.2" y1="507.1" x2="60.7" y2="507.1" stroke="#2b2b2b" stroke-width="2"/>
<text x="55.8" y="511.1" font-size="11" font-weight="bold" text-anchor="end" fill="#2b2b2b">0.6</text>
<line x1="56.2" y1="457.8" x2="60.7" y2="457.8" stroke="#2b2b2b" stroke-width="2"/>
<text x="55.8" y="461.8" font-size="11" font-weight="bold" text-anchor="end" fill="#2b2b2b">0.8</text>
<line x1="76.0" y1="654.8" x2="76.0" y2="659.8" stroke="#2b2b2b" stroke-width="2"/>
<text x="76.0" y="670.9" font-size="11" font-weight="bold" text-anchor="middle" fill="#2b2b2b">3</text>
<line x1="138.0" y1="654.8" x2="138.0" y2="659.8" stroke="#2b2b2b" stroke-width="2"/>
<text x="138.0" y="670.9" font-size="11" font-weight="bold" text-anchor="middle" fill="#2b2b2b">5</text>
<line x1="200.0" y1="654.8" x2="200.0" y2="659.8" stroke="#2b2b2b" stroke-width="2"/>
<text x="200.0" y="670.9" font-size="11" font-weight="bold" text-anchor="middle" fill="#2b2b2b">7</text>
<line x1="262.0" y1="654.8" x2="262.0" y2="659.8" stroke="#2b2b2b" stroke-width="2"/>
<text x="262.0" y="670.9" font-size="11" font-weight="bold" text-anchor="middle" fill="#2b2b2b">9</text>
<line x1="324.0" y1="654.8" x2="324.0" y2="659.8" stroke="#2b2b2b" stroke-width="2"/>
<text x="324.0" y="670.9" font-size="11" font-weight="bold" text-anchor="middle" fill="#2b2b2b">11</text>
<text x="114.0" y="457.3" font-size="13.6" font-weight="bold" fill="#2b2b2b" textLength="171.5" lengthAdjust="spacingAndGlyphs">Post-treatment Responses</text>
<text x="117.4" y="692.3" font-size="14" font-weight="bold" fill="#2b2b2b" textLength="173.2" lengthAdjust="spacingAndGlyphs">the day of NTG infusion (d)</text>
<text transform="translate(35.0,636.0) rotate(-90)" x="0" y="0" font-size="14" font-weight="bold" fill="#2b2b2b" textLength="159.3" lengthAdjust="spacingAndGlyphs">Periorbital Threshold (g)</text>
<text x="-0.2" y="443.0" font-size="25" font-weight="bold" fill="#111">d</text>
<line x1="71.1" y1="612.4" x2="80.9" y2="612.4" stroke="#2b2b2b" stroke-width="2.2"/>
<line x1="71.1" y1="622.3" x2="80.9" y2="622.3" stroke="#2b2b2b" stroke-width="2.2"/>
<line x1="138.0" y1="603.1" x2="138.0" y2="610.7" stroke="#2b2b2b" stroke-width="1.9"/>
<line x1="138.0" y1="620.1" x2="138.0" y2="627.7" stroke="#2b2b2b" stroke-width="1.9"/>
<line x1="133.1" y1="603.1" x2="142.9" y2="603.1" stroke="#2b2b2b" stroke-width="2.2"/>
<line x1="133.1" y1="627.7" x2="142.9" y2="627.7" stroke="#2b2b2b" stroke-width="2.2"/>
<line x1="200.0" y1="605.5" x2="200.0" y2="608.7" stroke="#2b2b2b" stroke-width="1.9"/>
<line x1="200.0" y1="618.1" x2="200.0" y2="621.3" stroke="#2b2b2b" stroke-width="1.9"/>
<line x1="195.1" y1="605.5" x2="204.9" y2="605.5" stroke="#2b2b2b" stroke-width="2.2"/>
<line x1="195.1" y1="621.3" x2="204.9" y2="621.3" stroke="#2b2b2b" stroke-width="2.2"/>
<line x1="262.0" y1="606.8" x2="262.0" y2="611.7" stroke="#2b2b2b" stroke-width="1.9"/>
<line x1="262.0" y1="621.1" x2="262.0" y2="626.0" stroke="#2b2b2b" stroke-width="1.9"/>
<line x1="257.1" y1="606.8" x2="266.9" y2="606.8" stroke="#2b2b2b" stroke-width="2.2"/>
<line x1="257.1" y1="626.0" x2="266.9" y2="626.0" stroke="#2b2b2b" stroke-width="2.2"/>
<line x1="324.0" y1="613.2" x2="324.0" y2="616.4" stroke="#2b2b2b" stroke-width="1.9"/>
<line x1="324.0" y1="625.8" x2="324.0" y2="628.9" stroke="#2b2b2b" stroke-width="1.9"/>
<line x1="319.1" y1="613.2" x2="328.9" y2="613.2" stroke="#2b2b2b" stroke-width="2.2"/>
<line x1="319.1" y1="628.9" x2="328.9" y2="628.9" stroke="#2b2b2b" stroke-width="2.2"/>
<line x1="76.0" y1="594.5" x2="76.0" y2="603.2" stroke="#2b2b2b" stroke-width="1.9"/>
<line x1="76.0" y1="612.8" x2="76.0" y2="621.6" stroke="#2b2b2b" stroke-width="1.9"/>
<line x1="71.1" y1="594.5" x2="80.9" y2="594.5" stroke="#2b2b2b" stroke-width="2.2"/>
<line x1="71.1" y1="621.6" x2="80.9" y2="621.6" stroke="#2b2b2b" stroke-width="2.2"/>
<line x1="138.0" y1="609.0" x2="138.0" y2="620.2" stroke="#2b2b2b" stroke-width="1.9"/>
<line x1="138.0" y1="629.8" x2="138.0" y2="641.0" stroke="#2b2b2b" stroke-width="1.9"/>
<line x1="133.1" y1="609.0" x2="142.9" y2="609.0" stroke="#2b2b2b" stroke-width="2.2"/>
<line x1="133.1" y1="641.0" x2="142.9" y2="641.0" stroke="#2b2b2b" stroke-width="2.2"/>
<line x1="200.0" y1="607.3" x2="200.0" y2="611.1" stroke="#2b2b2b" stroke-width="1.9"/>
<line x1="200.0" y1="620.7" x2="200.0" y2="624.5" stroke="#2b2b2b" stroke-width="1.9"/>
<line x1="195.1" y1="607.3" x2="204.9" y2="607.3" stroke="#2b2b2b" stroke-width="2.2"/>
<line x1="195.1" y1="624.5" x2="204.9" y2="624.5" stroke="#2b2b2b" stroke-width="2.2"/>
<line x1="262.0" y1="602.1" x2="262.0" y2="604.4" stroke="#2b2b2b" stroke-width="1.9"/>
<line x1="262.0" y1="614.0" x2="262.0" y2="616.4" stroke="#2b2b2b" stroke-width="1.9"/>
<line x1="257.1" y1="602.1" x2="266.9" y2="602.1" stroke="#2b2b2b" stroke-width="2.2"/>
<line x1="257.1" y1="616.4" x2="266.9" y2="616.4" stroke="#2b2b2b" stroke-width="2.2"/>
<line x1="324.0" y1="589.1" x2="324.0" y2="601.5" stroke="#2b2b2b" stroke-width="1.9"/>
<line x1="324.0" y1="611.1" x2="324.0" y2="623.5" stroke="#2b2b2b" stroke-width="1.9"/>
<line x1="319.1" y1="589.1" x2="328.9" y2="589.1" stroke="#2b2b2b" stroke-width="2.2"/>
<line x1="319.1" y1="623.5" x2="328.9" y2="623.5" stroke="#2b2b2b" stroke-width="2.2"/>
<line x1="76.0" y1="533.4" x2="76.0" y2="544.9" stroke="#2b2b2b" stroke-width="1.9"/>
<line x1="76.0" y1="554.5" x2="76.0" y2="565.9" stroke="#2b2b2b" stroke-width="1.9"/>
<line x1="71.1" y1="533.4" x2="80.9" y2="533.4" stroke="#2b2b2b" stroke-width="2.2"/>
<line x1="71.1" y1="565.9" x2="80.9" y2="565.9" stroke="#2b2b2b" stroke-width="2.2"/>
<line x1="138.0" y1="516.4" x2="138.0" y2="525.2" stroke="#2b2b2b" stroke-width="1.9"/>
<line x1="138.0" y1="534.8" x2="138.0" y2="543.5" stroke="#2b2b2b" stroke-width="1.9"/>
<line x1="133.1" y1="516.4" x2="142.9" y2="516.4" stroke="#2b2b2b" stroke-width="2.2"/>
<line x1="133.1" y1="543.5" x2="142.9" y2="543.5" stroke="#2b2b2b" stroke-width="2.2"/>
<line x1="200.0" y1="532.9" x2="200.0" y2="546.8" stroke="#2b2b2b" stroke-width="1.9"/>
<line x1="200.0" y1="556.4" x2="200.0" y2="570.3" stroke="#2b2b2b" stroke-width="1.9"/>
<line x1="195.1" y1="532.9" x2="204.9" y2="532.9" stroke="#2b2b2b" stroke-width="2.2"/>
<line x1="195.1" y1="570.3" x2="204.9" y2="570.3" stroke="#2b2b2b" stroke-width="2.2"/>
<line x1="262.0" y1="515.4" x2="262.0" y2="534.8" stroke="#2b2b2b" stroke-width="1.9"/>
<line x1="262.0" y1="544.4" x2="262.0" y2="563.7" stroke="#2b2b2b" stroke-width="1.9"/>
<line x1="257.1" y1="515.4" x2="266.9" y2="515.4" stroke="#2b2b2b" stroke-width="2.2"/>
<line x1="257.1" y1="563.7" x2="266.9" y2="563.7" stroke="#2b2b2b" stroke-width="2.2"/>
<line x1="324.0" y1="537.6" x2="324.0" y2="549.5" stroke="#2b2b2b" stroke-width="1.9"/>
<line x1="324.0" y1="559.1" x2="324.0" y2="571.1" stroke="#2b2b2b" stroke-width="1.9"/>
<line x1="319.1" y1="537.6" x2="328.9" y2="537.6" stroke="#2b2b2b" stroke-width="2.2"/>
<line x1="319.1" y1="571.1" x2="328.9" y2="571.1" stroke="#2b2b2b" stroke-width="2.2"/>
<line x1="76.0" y1="513.2" x2="76.0" y2="523.6" stroke="#2b2b2b" stroke-width="1.9"/>
<line x1="76.0" y1="532.8" x2="76.0" y2="543.2" stroke="#2b2b2b" stroke-width="1.9"/>
<line x1="71.1" y1="513.2" x2="80.9" y2="513.2" stroke="#2b2b2b" stroke-width="2.2"/>
<line x1="71.1" y1="543.2" x2="80.9" y2="543.2" stroke="#2b2b2b" stroke-width="2.2"/>
<line x1="138.0" y1="507.8" x2="138.0" y2="516.2" stroke="#2b2b2b" stroke-width="1.9"/>
<line x1="138.0" y1="525.4" x2="138.0" y2="533.9" stroke="#2b2b2b" stroke-width="1.9"/>
<line x1="133.1" y1="507.8" x2="142.9" y2="507.8" stroke="#2b2b2b" stroke-width="2.2"/>
<line x1="133.1" y1="533.9" x2="142.9" y2="533.9" stroke="#2b2b2b" stroke-width="2.2"/>
<line x1="200.0" y1="510.3" x2="200.0" y2="530.0" stroke="#2b2b2b" stroke-width="1.9"/>
<line x1="200.0" y1="539.2" x2="200.0" y2="559.0" stroke="#2b2b2b" stroke-width="1.9"/>
<line x1="195.1" y1="510.3" x2="204.9" y2="510.3" stroke="#2b2b2b" stroke-width="2.2"/>
<line x1="195.1" y1="559.0" x2="204.9" y2="559.0" stroke="#2b2b2b" stroke-width="2.2"/>
<line x1="262.0" y1="507.8" x2="262.0" y2="522.9" stroke="#2b2b2b" stroke-width="1.9"/>
<line x1="262.0" y1="532.1" x2="262.0" y2="547.2" stroke="#2b2b2b" stroke-width="1.9"/>
<line x1="257.1" y1="507.8" x2="266.9" y2="507.8" stroke="#2b2b2b" stroke-width="2.2"/>
<line x1="257.1" y1="547.2" x2="266.9" y2="547.2" stroke="#2b2b2b" stroke-width="2.2"/>
<line x1="324.0" y1="511.7" x2="324.0" y2="526.8" stroke="#2b2b2b" stroke-width="1.9"/>
<line x1="324.0" y1="536.0" x2="324.0" y2="551.1" stroke="#2b2b2b" stroke-width="1.9"/>
<line x1="319.1" y1="511.7" x2="328.9" y2="511.7" stroke="#2b2b2b" stroke-width="2.2"/>
<line x1="319.1" y1="551.1" x2="328.9" y2="551.1" stroke="#2b2b2b" stroke-width="2.2"/>
<polyline points="76.0,617.4 138.0,615.4 200.0,613.4 262.0,616.4 324.0,621.1" fill="none" stroke="#262626" stroke-width="1.5"/>
<polyline points="76.0,608.0 138.0,625.0 200.0,615.9 262.0,609.2 324.0,606.3" fill="none" stroke="#262626" stroke-width="1.5"/>
<polyline points="76.0,549.7 138.0,530.0 200.0,551.6 262.0,539.6 324.0,554.3" fill="none" stroke="#262626" stroke-width="1.5"/>
<polyline points="76.0,528.2 138.0,520.8 200.0,534.6 262.0,527.5 324.0,531.4" fill="none" stroke="#262626" stroke-width="1.5"/>
<rect x="71.3" y="612.7" width="9.4" height="9.4" fill="#1a1a1a"/>
<rect x="133.3" y="610.7" width="9.4" height="9.4" fill="#1a1a1a"/>
<rect x="195.3" y="608.7" width="9.4" height="9.4" fill="#1a1a1a"/>
<rect x="257.3" y="611.7" width="9.4" height="9.4" fill="#1a1a1a"/>
<rect x="319.3" y="616.4" width="9.4" height="9.4" fill="#1a1a1a"/>
<circle cx="76.00" cy="608.01" r="4.1" fill="none" stroke="#1a1a1a" stroke-width="1.6"/>
<circle cx="138.00" cy="625.00" r="4.1" fill="none" stroke="#1a1a1a" stroke-width="1.6"/>
<circle cx="200.00" cy="615.89" r="4.1" fill="none" stroke="#1a1a1a" stroke-width="1.6"/>
<circle cx="262.00" cy="609.24" r="4.1" fill="none" stroke="#1a1a1a" stroke-width="1.6"/>
<circle cx="324.00" cy="606.29" r="4.1" fill="none" stroke="#1a1a1a" stroke-width="1.6"/>
<circle cx="76.0" cy="549.7" r="4.8" fill="#1a1a1a"/>
<circle cx="138.0" cy="530.0" r="4.8" fill="#1a1a1a"/>
<circle cx="200.0" cy="551.6" r="4.8" fill="#1a1a1a"/>
<circle cx="262.0" cy="539.6" r="4.8" fill="#1a1a1a"/>
<circle cx="324.0" cy="554.3" r="4.8" fill="#1a1a1a"/>
<rect x="72.05" y="524.28" width="7.9" height="7.9" fill="none" stroke="#1a1a1a" stroke-width="1.6"/>
<rect x="134.05" y="516.89" width="7.9" height="7.9" fill="none" stroke="#1a1a1a" stroke-width="1.6"/>
<rect x="196.05" y="530.68" width="7.9" height="7.9" fill="none" stroke="#1a1a1a" stroke-width="1.6"/>
<rect x="258.05" y="523.54" width="7.9" height="7.9" fill="none" stroke="#1a1a1a" stroke-width="1.6"/>
<rect x="320.05" y="527.48" width="7.9" height="7.9" fill="none" stroke="#1a1a1a" stroke-width="1.6"/>
<circle cx="70.9" cy="508.5" r="1.5" fill="#474747"/>
<circle cx="75.6" cy="508.5" r="1.5" fill="#474747"/>
<circle cx="80.3" cy="508.5" r="1.5" fill="#474747"/>
<circle cx="132.9" cy="502.8" r="1.5" fill="#474747"/>
<circle cx="137.6" cy="502.8" r="1.5" fill="#474747"/>
<circle cx="142.3" cy="502.8" r="1.5" fill="#474747"/>
<circle cx="194.9" cy="504.5" r="1.5" fill="#474747"/>
<circle cx="199.6" cy="504.5" r="1.5" fill="#474747"/>
<circle cx="204.3" cy="504.5" r="1.5" fill="#474747"/>
<circle cx="256.9" cy="502.0" r="1.5" fill="#474747"/>
<circle cx="261.6" cy="502.0" r="1.5" fill="#474747"/>
<circle cx="266.3" cy="502.0" r="1.5" fill="#474747"/>
<circle cx="318.9" cy="506.1" r="1.5" fill="#474747"/>
<circle cx="323.6" cy="506.1" r="1.5" fill="#474747"/>
<circle cx="328.3" cy="506.1" r="1.5" fill="#474747"/>
<path d="M70.30,574.50L71.30,569.70M72.00,574.50L73.00,569.70M69.75,571.25H73.55M69.75,572.95H73.55M74.45,574.50L75.45,569.70M76.15,574.50L77.15,569.70M73.90,571.25H77.70M73.90,572.95H77.70M78.60,574.50L79.60,569.70M80.30,574.50L81.30,569.70M78.05,571.25H81.85M78.05,572.95H81.85" stroke="#606060" stroke-width="1.0" fill="none"/>
<path d="M132.30,552.10L133.30,547.30M134.00,552.10L135.00,547.30M131.75,548.85H135.55M131.75,550.55H135.55M136.45,552.10L137.45,547.30M138.15,552.10L139.15,547.30M135.90,548.85H139.70M135.90,550.55H139.70M140.60,552.10L141.60,547.30M142.30,552.10L143.30,547.30M140.05,548.85H143.85M140.05,550.55H143.85" stroke="#606060" stroke-width="1.0" fill="none"/>
<path d="M194.30,579.20L195.30,574.40M196.00,579.20L197.00,574.40M193.75,575.95H197.55M193.75,577.65H197.55M198.45,579.20L199.45,574.40M200.15,579.20L201.15,574.40M197.90,575.95H201.70M197.90,577.65H201.70M202.60,579.20L203.60,574.40M204.30,579.20L205.30,574.40M202.05,575.95H205.85M202.05,577.65H205.85" stroke="#606060" stroke-width="1.0" fill="none"/>
<path d="M256.30,572.70L257.30,567.90M258.00,572.70L259.00,567.90M255.75,569.45H259.55M255.75,571.15H259.55M260.45,572.70L261.45,567.90M262.15,572.70L263.15,567.90M259.90,569.45H263.70M259.90,571.15H263.70M264.60,572.70L265.60,567.90M266.30,572.70L267.30,567.90M264.05,569.45H267.85M264.05,571.15H267.85" stroke="#606060" stroke-width="1.0" fill="none"/>
<path d="M318.30,579.80L319.30,575.00M320.00,579.80L321.00,575.00M317.75,576.55H321.55M317.75,578.25H321.55M322.45,579.80L323.45,575.00M324.15,579.80L325.15,575.00M321.90,576.55H325.70M321.90,578.25H325.70M326.60,579.80L327.60,575.00M328.30,579.80L329.30,575.00M326.05,576.55H329.85M326.05,578.25H329.85" stroke="#606060" stroke-width="1.0" fill="none"/>
<path d="M478.4,456.6 V657.6 H782.6" fill="none" stroke="#2b2b2b" stroke-width="1.9"/>
<line x1="473.9" y1="657.6" x2="478.4" y2="657.6" stroke="#2b2b2b" stroke-width="2"/>
<text x="473.5" y="661.6" font-size="11" font-weight="bold" text-anchor="end" fill="#2b2b2b">0.0</text>
<line x1="473.9" y1="607.4" x2="478.4" y2="607.4" stroke="#2b2b2b" stroke-width="2"/>
<text x="473.5" y="611.4" font-size="11" font-weight="bold" text-anchor="end" fill="#2b2b2b">0.5</text>
<line x1="473.9" y1="557.1" x2="478.4" y2="557.1" stroke="#2b2b2b" stroke-width="2"/>
<text x="473.5" y="561.1" font-size="11" font-weight="bold" text-anchor="end" fill="#2b2b2b">1.0</text>
<line x1="473.9" y1="506.9" x2="478.4" y2="506.9" stroke="#2b2b2b" stroke-width="2"/>
<text x="473.5" y="510.9" font-size="11" font-weight="bold" text-anchor="end" fill="#2b2b2b">1.5</text>
<line x1="473.9" y1="456.6" x2="478.4" y2="456.6" stroke="#2b2b2b" stroke-width="2"/>
<text x="473.5" y="460.6" font-size="11" font-weight="bold" text-anchor="end" fill="#2b2b2b">2.0</text>
<line x1="494.9" y1="657.6" x2="494.9" y2="662.6" stroke="#2b2b2b" stroke-width="2"/>
<text x="494.9" y="673.7" font-size="11" font-weight="bold" text-anchor="middle" fill="#2b2b2b">3</text>
<line x1="558.8" y1="657.6" x2="558.8" y2="662.6" stroke="#2b2b2b" stroke-width="2"/>
<text x="558.8" y="673.7" font-size="11" font-weight="bold" text-anchor="middle" fill="#2b2b2b">5</text>
<line x1="622.6" y1="657.6" x2="622.6" y2="662.6" stroke="#2b2b2b" stroke-width="2"/>
<text x="622.6" y="673.7" font-size="11" font-weight="bold" text-anchor="middle" fill="#2b2b2b">7</text>
<line x1="686.5" y1="657.6" x2="686.5" y2="662.6" stroke="#2b2b2b" stroke-width="2"/>
<text x="686.5" y="673.7" font-size="11" font-weight="bold" text-anchor="middle" fill="#2b2b2b">9</text>
<line x1="750.3" y1="657.6" x2="750.3" y2="662.6" stroke="#2b2b2b" stroke-width="2"/>
<text x="750.3" y="673.7" font-size="11" font-weight="bold" text-anchor="middle" fill="#2b2b2b">11</text>
<text x="527.3" y="457.3" font-size="13.6" font-weight="bold" fill="#2b2b2b" textLength="176.8" lengthAdjust="spacingAndGlyphs">Post-treatment Responses</text>
<text x="541.9" y="692.2" font-size="14" font-weight="bold" fill="#2b2b2b" textLength="177.7" lengthAdjust="spacingAndGlyphs">the day of NTG infusion (d)</text>
<text transform="translate(449.5,634.1) rotate(-90)" x="0" y="0" font-size="14" font-weight="bold" fill="#2b2b2b" textLength="161.3" lengthAdjust="spacingAndGlyphs">Hindpaw Threshold (g)</text>
<text x="431.4" y="442.8" font-size="25" font-weight="bold" fill="#111">e</text>
<line x1="494.9" y1="633.0" x2="494.9" y2="634.3" stroke="#2b2b2b" stroke-width="1.9"/>
<line x1="494.9" y1="643.7" x2="494.9" y2="645.0" stroke="#2b2b2b" stroke-width="1.9"/>
<line x1="490.0" y1="633.0" x2="499.8" y2="633.0" stroke="#2b2b2b" stroke-width="2.2"/>
<line x1="490.0" y1="645.0" x2="499.8" y2="645.0" stroke="#2b2b2b" stroke-width="2.2"/>
<line x1="553.9" y1="638.8" x2="563.6" y2="638.8" stroke="#2b2b2b" stroke-width="2.2"/>
<line x1="553.9" y1="642.8" x2="563.6" y2="642.8" stroke="#2b2b2b" stroke-width="2.2"/>
<line x1="617.7" y1="635.5" x2="627.5" y2="635.5" stroke="#2b2b2b" stroke-width="2.2"/>
<line x1="617.7" y1="645.5" x2="627.5" y2="645.5" stroke="#2b2b2b" stroke-width="2.2"/>
<line x1="681.6" y1="644.6" x2="691.4" y2="644.6" stroke="#2b2b2b" stroke-width="2.2"/>
<line x1="681.6" y1="648.7" x2="691.4" y2="648.7" stroke="#2b2b2b" stroke-width="2.2"/>
<line x1="745.4" y1="639.2" x2="755.2" y2="639.2" stroke="#2b2b2b" stroke-width="2.2"/>
<line x1="745.4" y1="646.2" x2="755.2" y2="646.2" stroke="#2b2b2b" stroke-width="2.2"/>
<line x1="490.0" y1="631.5" x2="499.8" y2="631.5" stroke="#2b2b2b" stroke-width="2.2"/>
<line x1="490.0" y1="641.5" x2="499.8" y2="641.5" stroke="#2b2b2b" stroke-width="2.2"/>
<line x1="553.9" y1="634.0" x2="563.6" y2="634.0" stroke="#2b2b2b" stroke-width="2.2"/>
<line x1="553.9" y1="636.0" x2="563.6" y2="636.0" stroke="#2b2b2b" stroke-width="2.2"/>
<line x1="617.7" y1="635.0" x2="627.5" y2="635.0" stroke="#2b2b2b" stroke-width="2.2"/>
<line x1="617.7" y1="645.0" x2="627.5" y2="645.0" stroke="#2b2b2b" stroke-width="2.2"/>
<line x1="686.5" y1="633.5" x2="686.5" y2="634.7" stroke="#2b2b2b" stroke-width="1.9"/>
<line x1="686.5" y1="644.3" x2="686.5" y2="645.5" stroke="#2b2b2b" stroke-width="1.9"/>
<line x1="681.6" y1="633.5" x2="691.4" y2="633.5" stroke="#2b2b2b" stroke-width="2.2"/>
<line x1="681.6" y1="645.5" x2="691.4" y2="645.5" stroke="#2b2b2b" stroke-width="2.2"/>
<line x1="750.3" y1="633.5" x2="750.3" y2="635.2" stroke="#2b2b2b" stroke-width="1.9"/>
<line x1="750.3" y1="644.8" x2="750.3" y2="646.5" stroke="#2b2b2b" stroke-width="1.9"/>
<line x1="745.4" y1="633.5" x2="755.2" y2="633.5" stroke="#2b2b2b" stroke-width="2.2"/>
<line x1="745.4" y1="646.5" x2="755.2" y2="646.5" stroke="#2b2b2b" stroke-width="2.2"/>
<line x1="494.9" y1="559.9" x2="494.9" y2="564.7" stroke="#2b2b2b" stroke-width="1.9"/>
<line x1="494.9" y1="574.3" x2="494.9" y2="579.0" stroke="#2b2b2b" stroke-width="1.9"/>
<line x1="490.0" y1="559.9" x2="499.8" y2="559.9" stroke="#2b2b2b" stroke-width="2.2"/>
<line x1="490.0" y1="579.0" x2="499.8" y2="579.0" stroke="#2b2b2b" stroke-width="2.2"/>
<line x1="558.8" y1="559.8" x2="558.8" y2="569.8" stroke="#2b2b2b" stroke-width="1.9"/>
<line x1="558.8" y1="579.4" x2="558.8" y2="589.4" stroke="#2b2b2b" stroke-width="1.9"/>
<line x1="553.9" y1="559.8" x2="563.6" y2="559.8" stroke="#2b2b2b" stroke-width="2.2"/>
<line x1="553.9" y1="589.4" x2="563.6" y2="589.4" stroke="#2b2b2b" stroke-width="2.2"/>
<line x1="622.6" y1="547.7" x2="622.6" y2="556.1" stroke="#2b2b2b" stroke-width="1.9"/>
<line x1="622.6" y1="565.7" x2="622.6" y2="574.2" stroke="#2b2b2b" stroke-width="1.9"/>
<line x1="617.7" y1="547.7" x2="627.5" y2="547.7" stroke="#2b2b2b" stroke-width="2.2"/>
<line x1="617.7" y1="574.2" x2="627.5" y2="574.2" stroke="#2b2b2b" stroke-width="2.2"/>
<line x1="686.5" y1="557.0" x2="686.5" y2="563.3" stroke="#2b2b2b" stroke-width="1.9"/>
<line x1="686.5" y1="572.9" x2="686.5" y2="579.1" stroke="#2b2b2b" stroke-width="1.9"/>
<line x1="681.6" y1="557.0" x2="691.4" y2="557.0" stroke="#2b2b2b" stroke-width="2.2"/>
<line x1="681.6" y1="579.1" x2="691.4" y2="579.1" stroke="#2b2b2b" stroke-width="2.2"/>
<line x1="750.3" y1="529.4" x2="750.3" y2="540.6" stroke="#2b2b2b" stroke-width="1.9"/>
<line x1="750.3" y1="550.2" x2="750.3" y2="561.5" stroke="#2b2b2b" stroke-width="1.9"/>
<line x1="745.4" y1="529.4" x2="755.2" y2="529.4" stroke="#2b2b2b" stroke-width="2.2"/>
<line x1="745.4" y1="561.5" x2="755.2" y2="561.5" stroke="#2b2b2b" stroke-width="2.2"/>
<line x1="494.9" y1="510.4" x2="494.9" y2="517.0" stroke="#2b2b2b" stroke-width="1.9"/>
<line x1="494.9" y1="526.2" x2="494.9" y2="532.9" stroke="#2b2b2b" stroke-width="1.9"/>
<line x1="490.0" y1="510.4" x2="499.8" y2="510.4" stroke="#2b2b2b" stroke-width="2.2"/>
<line x1="490.0" y1="532.9" x2="499.8" y2="532.9" stroke="#2b2b2b" stroke-width="2.2"/>
<line x1="558.8" y1="505.4" x2="558.8" y2="510.9" stroke="#2b2b2b" stroke-width="1.9"/>
<line x1="558.8" y1="520.1" x2="558.8" y2="525.5" stroke="#2b2b2b" stroke-width="1.9"/>
<line x1="553.9" y1="505.4" x2="563.6" y2="505.4" stroke="#2b2b2b" stroke-width="2.2"/>
<line x1="553.9" y1="525.5" x2="563.6" y2="525.5" stroke="#2b2b2b" stroke-width="2.2"/>
<line x1="622.6" y1="518.7" x2="622.6" y2="522.1" stroke="#2b2b2b" stroke-width="1.9"/>
<line x1="622.6" y1="531.3" x2="622.6" y2="534.8" stroke="#2b2b2b" stroke-width="1.9"/>
<line x1="617.7" y1="518.7" x2="627.5" y2="518.7" stroke="#2b2b2b" stroke-width="2.2"/>
<line x1="617.7" y1="534.8" x2="627.5" y2="534.8" stroke="#2b2b2b" stroke-width="2.2"/>
<line x1="686.5" y1="515.0" x2="686.5" y2="523.5" stroke="#2b2b2b" stroke-width="1.9"/>
<line x1="686.5" y1="532.7" x2="686.5" y2="541.1" stroke="#2b2b2b" stroke-width="1.9"/>
<line x1="681.6" y1="515.0" x2="691.4" y2="515.0" stroke="#2b2b2b" stroke-width="2.2"/>
<line x1="681.6" y1="541.1" x2="691.4" y2="541.1" stroke="#2b2b2b" stroke-width="2.2"/>
<line x1="750.3" y1="513.4" x2="750.3" y2="521.5" stroke="#2b2b2b" stroke-width="1.9"/>
<line x1="750.3" y1="530.7" x2="750.3" y2="538.9" stroke="#2b2b2b" stroke-width="1.9"/>
<line x1="745.4" y1="513.4" x2="755.2" y2="513.4" stroke="#2b2b2b" stroke-width="2.2"/>
<line x1="745.4" y1="538.9" x2="755.2" y2="538.9" stroke="#2b2b2b" stroke-width="2.2"/>
<polyline points="494.9,639.0 558.8,640.8 622.6,640.5 686.5,646.6 750.3,642.7" fill="none" stroke="#262626" stroke-width="1.5"/>
<polyline points="494.9,636.5 558.8,635.0 622.6,640.0 686.5,639.5 750.3,640.0" fill="none" stroke="#262626" stroke-width="1.5"/>
<polyline points="494.9,569.5 558.8,574.6 622.6,560.9 686.5,568.1 750.3,545.4" fill="none" stroke="#262626" stroke-width="1.5"/>
<polyline points="494.9,521.6 558.8,515.5 622.6,526.7 686.5,528.1 750.3,526.1" fill="none" stroke="#262626" stroke-width="1.5"/>
<rect x="490.2" y="634.3" width="9.4" height="9.4" fill="#1a1a1a"/>
<rect x="554.0" y="636.1" width="9.4" height="9.4" fill="#1a1a1a"/>
<rect x="617.9" y="635.8" width="9.4" height="9.4" fill="#1a1a1a"/>
<rect x="681.8" y="641.9" width="9.4" height="9.4" fill="#1a1a1a"/>
<rect x="745.6" y="638.0" width="9.4" height="9.4" fill="#1a1a1a"/>
<circle cx="494.90" cy="636.50" r="4.1" fill="none" stroke="#1a1a1a" stroke-width="1.6"/>
<circle cx="558.75" cy="634.99" r="4.1" fill="none" stroke="#1a1a1a" stroke-width="1.6"/>
<circle cx="622.60" cy="640.01" r="4.1" fill="none" stroke="#1a1a1a" stroke-width="1.6"/>
<circle cx="686.45" cy="639.51" r="4.1" fill="none" stroke="#1a1a1a" stroke-width="1.6"/>
<circle cx="750.30" cy="640.01" r="4.1" fill="none" stroke="#1a1a1a" stroke-width="1.6"/>
<circle cx="494.9" cy="569.5" r="4.8" fill="#1a1a1a"/>
<circle cx="558.8" cy="574.6" r="4.8" fill="#1a1a1a"/>
<circle cx="622.6" cy="560.9" r="4.8" fill="#1a1a1a"/>
<circle cx="686.5" cy="568.1" r="4.8" fill="#1a1a1a"/>
<circle cx="750.3" cy="545.4" r="4.8" fill="#1a1a1a"/>
<rect x="490.95" y="517.67" width="7.9" height="7.9" fill="none" stroke="#1a1a1a" stroke-width="1.6"/>
<rect x="554.80" y="511.54" width="7.9" height="7.9" fill="none" stroke="#1a1a1a" stroke-width="1.6"/>
<rect x="618.65" y="522.80" width="7.9" height="7.9" fill="none" stroke="#1a1a1a" stroke-width="1.6"/>
<rect x="682.50" y="524.11" width="7.9" height="7.9" fill="none" stroke="#1a1a1a" stroke-width="1.6"/>
<rect x="746.35" y="522.20" width="7.9" height="7.9" fill="none" stroke="#1a1a1a" stroke-width="1.6"/>
<circle cx="489.8" cy="505.3" r="1.5" fill="#474747"/>
<circle cx="494.5" cy="505.3" r="1.5" fill="#474747"/>
<circle cx="499.2" cy="505.3" r="1.5" fill="#474747"/>
<circle cx="553.6" cy="500.2" r="1.5" fill="#474747"/>
<circle cx="558.4" cy="500.2" r="1.5" fill="#474747"/>
<circle cx="563.1" cy="500.2" r="1.5" fill="#474747"/>
<circle cx="617.5" cy="514.0" r="1.5" fill="#474747"/>
<circle cx="622.2" cy="514.0" r="1.5" fill="#474747"/>
<circle cx="626.9" cy="514.0" r="1.5" fill="#474747"/>
<circle cx="681.4" cy="509.8" r="1.5" fill="#474747"/>
<circle cx="686.1" cy="509.8" r="1.5" fill="#474747"/>
<circle cx="690.8" cy="509.8" r="1.5" fill="#474747"/>
<circle cx="745.2" cy="509.8" r="1.5" fill="#474747"/>
<circle cx="749.9" cy="509.8" r="1.5" fill="#474747"/>
<circle cx="754.6" cy="509.8" r="1.5" fill="#474747"/>
<path d="M489.20,588.20L490.20,583.40M490.90,588.20L491.90,583.40M488.65,584.95H492.45M488.65,586.65H492.45M493.35,588.20L494.35,583.40M495.05,588.20L496.05,583.40M492.80,584.95H496.60M492.80,586.65H496.60M497.50,588.20L498.50,583.40M499.20,588.20L500.20,583.40M496.95,584.95H500.75M496.95,586.65H500.75" stroke="#606060" stroke-width="1.0" fill="none"/>
<path d="M553.05,599.40L554.05,594.60M554.75,599.40L555.75,594.60M552.50,596.15H556.30M552.50,597.85H556.30M557.20,599.40L558.20,594.60M558.90,599.40L559.90,594.60M556.65,596.15H560.45M556.65,597.85H560.45M561.35,599.40L562.35,594.60M563.05,599.40L564.05,594.60M560.80,596.15H564.60M560.80,597.85H564.60" stroke="#606060" stroke-width="1.0" fill="none"/>
<path d="M616.90,585.60L617.90,580.80M618.60,585.60L619.60,580.80M616.35,582.35H620.15M616.35,584.05H620.15M621.05,585.60L622.05,580.80M622.75,585.60L623.75,580.80M620.50,582.35H624.30M620.50,584.05H624.30M625.20,585.60L626.20,580.80M626.90,585.60L627.90,580.80M624.65,582.35H628.45M624.65,584.05H628.45" stroke="#606060" stroke-width="1.0" fill="none"/>
<path d="M680.75,587.80L681.75,583.00M682.45,587.80L683.45,583.00M680.20,584.55H684.00M680.20,586.25H684.00M684.90,587.80L685.90,583.00M686.60,587.80L687.60,583.00M684.35,584.55H688.15M684.35,586.25H688.15M689.05,587.80L690.05,583.00M690.75,587.80L691.75,583.00M688.50,584.55H692.30M688.50,586.25H692.30" stroke="#606060" stroke-width="1.0" fill="none"/>
<path d="M744.60,569.90L745.60,565.10M746.30,569.90L747.30,565.10M744.05,566.65H747.85M744.05,568.35H747.85M748.75,569.90L749.75,565.10M750.45,569.90L751.45,565.10M748.20,566.65H752.00M748.20,568.35H752.00M752.90,569.90L753.90,565.10M754.60,569.90L755.60,565.10M752.35,566.65H756.15M752.35,568.35H756.15" stroke="#606060" stroke-width="1.0" fill="none"/>
</svg>
</body></html>
